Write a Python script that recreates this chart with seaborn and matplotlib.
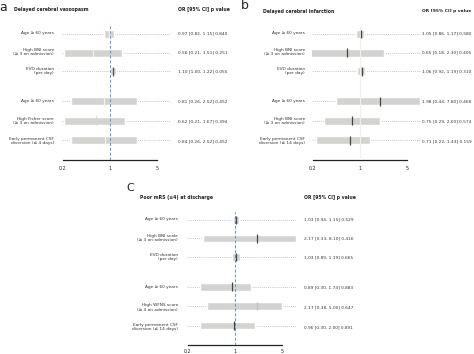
import numpy as np
import pandas as pd
import seaborn as sns
import matplotlib.pyplot as plt
from matplotlib.ticker import NullLocator

# ---- data (approximate) ----
row_pos = [0, 1, 2, 3.6, 4.65, 5.7]

labels_a = ["Age ≥ 60 years", "High BNI score\n(≥ 3 on admission)", "EVD duration\n(per day)",
            "Age ≥ 60 years", "High Fisher score\n(≥ 3 on admission)", "Early permanent CSF\ndiversion (≤ 4 days)"]
or_a = [0.97, 0.56, 1.10, 0.81, 0.62, 0.84]
lo_a = [0.82, 0.21, 1.00, 0.26, 0.21, 0.26]
hi_a = [1.15, 1.51, 1.22, 2.52, 1.67, 2.52]
p_a = ["0.840", "0.251", "0.055", "0.452", "0.394", "0.452"]

labels_b = ["Age ≥ 60 years", "High BNI score\n(≥ 3 on admission)", "EVD duration\n(per day)",
            "Age ≥ 60 years", "High BNI score\n(≥ 3 on admission)", "Early permanent CSF\ndiversion (≤ 14 days)"]
or_b = [1.05, 0.65, 1.06, 1.98, 0.75, 0.71]
lo_b = [0.86, 0.18, 0.92, 0.44, 0.29, 0.22]
hi_b = [1.17, 2.30, 1.19, 7.80, 2.00, 1.43]
p_b = ["0.580", "0.405", "0.310", "0.468", "0.574", "0.159"]

labels_c = ["Age ≥ 60 years", "High BNI scale\n(≥ 3 on admission)", "EVD duration\n(per day)",
            "Age ≥ 60 years", "High WFNS score\n(≥ 4 on admission)", "Early permanent CSF\ndiversion (≤ 14 days)"]
or_c = [1.03, 2.17, 1.03, 0.89, 2.17, 0.96]
lo_c = [0.94, 0.33, 0.89, 0.30, 0.38, 0.30]
hi_c = [1.15, 8.10, 1.19, 1.74, 5.00, 2.00]
p_c = ["0.529", "0.416", "0.665", "0.883", "0.647", "0.891"]

ticks = [0.2, 1, 5]
tick_labels = ["0.2", "1", "5"]

sns.set_style("white")
plt.rcParams['font.family'] = ['DejaVu Sans']

W, H = 474, 354
fig = plt.figure(figsize=(W / 100, H / 100), dpi=100)


def px_ax(x, y, w, h):
    return fig.add_axes([x / W, 1 - (y + h) / H, w / W, h / H])


def px_text(x, y, s, **kw):
    fig.text(x / W, 1 - y / H, s, **kw)


def forest(ax, ors, los, his, ref_style, or_cols, pad=2):
    df = pd.DataFrame({"y": row_pos, "or": ors, "lo": los, "hi": his, "col": or_cols})
    ax.set_xscale("log")
    ax.set_xlim(0.19, 8.0)
    ax.set_ylim(6.75, -0.75)
    ax.hlines(df["y"], 0.19, 8.0, colors="#b8b8b8", linestyles=(0, (1, 1.3)), lw=0.6, zorder=1)
    ax.barh(df["y"], df["hi"] - df["lo"], left=df["lo"], height=0.42, color="#d3d3cf", zorder=2)
    if ref_style == "blue":
        ax.axvline(1, ymin=0.0, ymax=0.96, color="#5d95dc", ls=(0, (3, 2)), lw=0.7, zorder=4)
    else:
        ax.axvline(1, ymin=0.0, ymax=0.96, color="#f0f0f0", lw=0.8, zorder=3)
    sns.scatterplot(data=df, x="or", y="y", hue="col", palette={c: c for c in set(or_cols)},
                    marker="|", s=40, linewidth=0.9, legend=False, ax=ax, zorder=5)
    ax.set_xlabel("")
    ax.set_ylabel("")
    ax.set_yticks([])
    ax.set_xticks(ticks)
    ax.set_xticklabels(tick_labels)
    ax.xaxis.set_minor_locator(NullLocator())
    sns.despine(ax=ax, left=True)
    ax.spines["bottom"].set_bounds(0.2, 5)
    ax.spines["bottom"].set_linewidth(0.9)
    ax.spines["bottom"].set_color("#222222")
    ax.tick_params(axis="x", direction="inout", length=4, width=0.8, labelsize=3.4,
                   pad=pad, colors="#222222")
    ax.patch.set_alpha(0)


def row_texts(x_lab, x_val, top, labels, ors, los, his, ps):
    for yy, lab, o, l, h, p in zip(row_pos, labels, ors, los, his, ps):
        ypx = top + 13 + yy * 19
        px_text(x_lab, ypx, lab, ha="right", va="center", fontsize=3.1, color="#333333",
                linespacing=1.1)
        px_text(x_val, ypx, f"{o:.2f} [{l:.2f}, {h:.2f}] {p}", ha="left", va="center",
                fontsize=3.1, color="#333333")


# panel a
ax_a = px_ax(61.5, 20, 109, 140)
forest(ax_a, or_a, lo_a, hi_a, "blue", ["#f2f2f2", "#f2f2f2", "#555555", "#f2f2f2", "#d3d3cf", "#f2f2f2"])
row_texts(54, 178, 20, labels_a, or_a, lo_a, hi_a, p_a)
px_text(-1, 1, "a", fontsize=9, va="top", color="#222222")
px_text(14, 10, "Delayed cerebral vasospasm", fontsize=3.3, va="center", color="#222222", weight="bold")
px_text(178, 10, "OR [95% CI] p value", fontsize=3.3, va="center", color="#222222", weight="bold")

# panel b
ax_b = px_ax(311.5, 20, 109, 140)
forest(ax_b, or_b, lo_b, hi_b, "white", ["#444444"] * 6)
row_texts(305, 422, 20, labels_b, or_b, lo_b, hi_b, p_b)
px_text(241, -1, "b", fontsize=9, va="top", color="#222222")
px_text(263, 11, "Delayed cerebral infarction", fontsize=3.3, va="center", color="#222222", weight="bold")
px_text(422, 11, "OR [95% CI] p value", fontsize=3.2, va="center", color="#222222", weight="bold")

# panel c
ax_c = px_ax(186.5, 206, 109, 139)
forest(ax_c, or_c, lo_c, hi_c, "blue", ["#444444", "#444444", "#444444", "#444444", "#c2c2be", "#444444"],
       pad=1)
row_texts(178, 304, 206, labels_c, or_c, lo_c, hi_c, p_c)
px_text(126, 183, "C", fontsize=8, va="top", color="#222222")
px_text(140, 197, "Poor mRS (≥4) at discharge", fontsize=3.3, va="center", color="#222222", weight="bold")
px_text(304, 197, "OR [95% CI] p value", fontsize=3.3, va="center", color="#222222", weight="bold")

fig.savefig("out.png", dpi=100)
